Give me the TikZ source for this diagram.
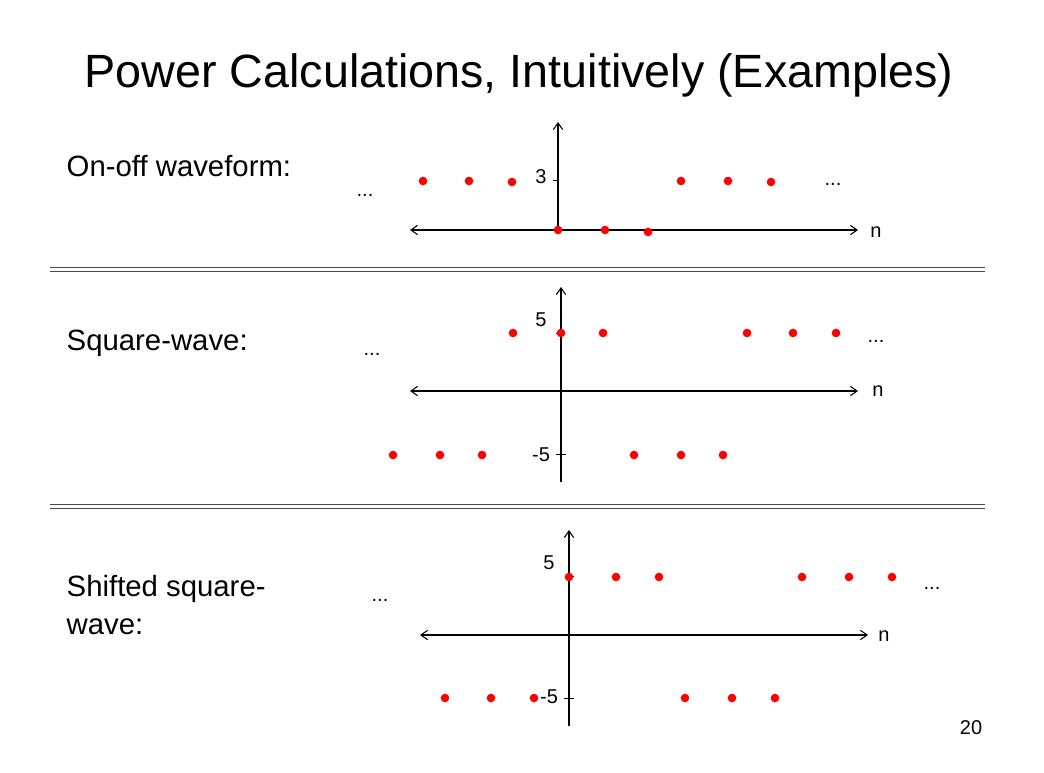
\documentclass[tikz,border=0pt]{standalone}
\usepackage{fontspec}
\setmainfont{Liberation Sans}
\usetikzlibrary{arrows.meta}
\begin{document}
\begin{tikzpicture}[x=0.75pt,y=-0.75pt,
  dot/.style={circle,fill=red,inner sep=0pt,minimum size=6.5pt},
  ax/.style={-{Straight Barb[length=5pt,width=7pt]},line width=0.8pt},
  axx/.style={{Straight Barb[length=5pt,width=7pt]}-{Straight Barb[length=5pt,width=7pt]},line width=0.8pt},
  lab/.style={font=\fontsize{22}{28}\selectfont,anchor=west},
  sm/.style={font=\fontsize{15}{18}\selectfont},
  sep/.style={double,double distance=2pt,line width=0.8pt,draw=gray!60!black}]
\useasboundingbox[fill=white] (0,0) rectangle (1044,773);
\node[font=\fontsize{35}{40}\selectfont] (title) at (519,75) {Power Calculations, Intuitively (Examples)};
\node[sm] (pg) at (971,728) {20};
% separators
\coordinate (s1a) at (50,269.5); \coordinate (s1b) at (985,269.5);
\coordinate (s2a) at (50,506.5); \coordinate (s2b) at (985,506.5);
\draw[sep] (s1a) -- (s1b);
\draw[sep] (s2a) -- (s2b);
% panel 1
\node[lab] (l1) at (62,166) {On-off waveform:};
\coordinate (a1l) at (410,230); \coordinate (a1r) at (858,230);
\coordinate (v1b) at (558,230); \coordinate (v1t) at (558,122);
\draw[axx] (a1l) -- (a1r);
\draw[ax] (v1b) -- (v1t);
\draw (553,180) -- (558,180);
\node[sm] (t1) at (541,177) {3};
\node[sm] (n1) at (876,232) {n};
\node[sm] (d1a) at (365,195) {...};
\node[sm] (d1b) at (833,184) {...};
\foreach \x/\y in {423/181,469/181,512/182,558/230,605/230,648/232,681/181,728/181,771/182}
  \node[dot] at (\x,\y) {};
% panel 2
\node[lab] (l2) at (62,343) {Square-wave:};
\coordinate (a2l) at (410,391); \coordinate (a2r) at (858,391);
\coordinate (v2b) at (561,482); \coordinate (v2t) at (561,287);
\draw[axx] (a2l) -- (a2r);
\draw[ax] (v2b) -- (v2t);
\draw (556,333) -- (561,333);
\draw (556,454) -- (566,454);
\node[sm] (t2a) at (541,320) {5};
\node[sm] (t2b) at (541,455) {-5};
\node[sm] (n2) at (878,391) {n};
\node[sm] (d2a) at (372,354) {...};
\node[sm] (d2b) at (876,341) {...};
\foreach \x in {513,561,603,747,793,836} \node[dot] at (\x,333) {};
\foreach \x in {393,440,482,634,681,723} \node[dot] at (\x,455) {};
% panel 3
\node[lab,align=left,anchor=north west] (l3) at (62,571) {Shifted square-\\wave:};
\coordinate (a3l) at (420,635); \coordinate (a3r) at (868,635);
\coordinate (v3b) at (569,726); \coordinate (v3t) at (569,530);
\draw[axx] (a3l) -- (a3r);
\draw[ax] (v3b) -- (v3t);
\draw (569,576) -- (574,576);
\draw (564,698) -- (574,698);
\node[sm] (t3a) at (549,563) {5};
\node[sm] (t3b) at (549,697) {-5};
\node[sm] (n3) at (884,636) {n};
\node[sm] (d3a) at (380,600) {...};
\node[sm] (d3b) at (932,588) {...};
\foreach \x in {569,616,659,802,849,892} \node[dot] at (\x,577) {};
\foreach \x in {445,491,534,685,732,775} \node[dot] at (\x,698) {};
\end{tikzpicture}
\end{document}
